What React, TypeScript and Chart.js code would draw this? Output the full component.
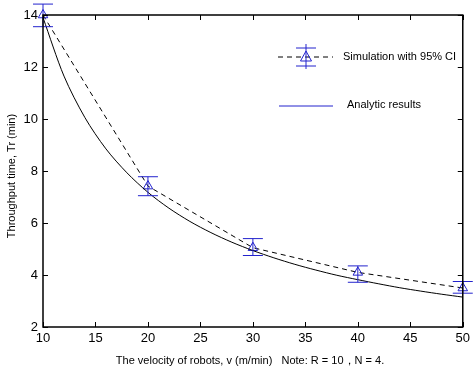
import React, { useEffect, useRef } from 'react';
import { Chart, registerables } from 'chart.js';

Chart.register(...registerables);

// ---- data ----
const simVelocity = [10, 20, 30, 40, 50];
const simMean = [14.0, 7.42, 5.05, 4.1, 3.5];
const simLower = [13.55, 7.05, 4.75, 3.72, 3.3];
const simUpper = [14.42, 7.78, 5.4, 4.35, 3.75];

const analyticVelocity = [10, 12, 14, 16, 18, 20, 22, 24, 26, 28, 30, 32, 34, 36, 38, 40, 42, 44, 46, 48, 50];
const analyticTime = [13.9, 11.65, 10.05, 8.85, 7.93, 7.18, 6.57, 6.06, 5.63, 5.26, 4.94, 4.66, 4.41, 4.19, 3.99, 3.82, 3.66, 3.51, 3.38, 3.26, 3.15];

const xTickValues = [10, 15, 20, 25, 30, 35, 40, 45, 50];
const yTickValues = [2, 4, 6, 8, 10, 12, 14];

const simLabel = 'Simulation with 95% CI';
const analyticLabel = 'Analytic results';
const xTitle = 'The velocity of robots, v (m/min)   Note: R = 10\uFF0CN = 4.';
const yTitle = 'Throughput time, Tr (min)';

const BLUE = 'rgb(35,35,205)';
const FONT = '"Liberation Sans", Arial, sans-serif';

const customPlugin = {
  id: 'matlabStyle',
  afterDatasetsDraw(chart: any) {
    const ctx = chart.ctx;
    const xs = chart.scales.x;
    const ys = chart.scales.y;
    // error bars
    ctx.save();
    ctx.strokeStyle = BLUE;
    ctx.lineWidth = 1;
    for (let i = 0; i < simVelocity.length; i++) {
      const px = xs.getPixelForValue(simVelocity[i]);
      const yl = ys.getPixelForValue(simLower[i]);
      const yu = ys.getPixelForValue(simUpper[i]);
      ctx.beginPath();
      ctx.moveTo(px, yl);
      ctx.lineTo(px, yu);
      ctx.moveTo(px - 10, yl);
      ctx.lineTo(px + 10, yl);
      ctx.moveTo(px - 10, yu);
      ctx.lineTo(px + 10, yu);
      ctx.stroke();
    }
    ctx.restore();
  },
  afterDraw(chart: any) {
    const ctx = chart.ctx;
    const a = chart.chartArea;
    const xs = chart.scales.x;
    const ys = chart.scales.y;
    ctx.save();
    // box
    ctx.strokeStyle = '#000';
    ctx.lineWidth = 1.5;
    ctx.strokeRect(a.left, a.top, a.right - a.left, a.bottom - a.top);
    // inward ticks
    ctx.lineWidth = 1;
    const tl = 5;
    ctx.beginPath();
    for (const v of xTickValues) {
      const px = Math.round(xs.getPixelForValue(v)) + 0.5;
      ctx.moveTo(px, a.bottom);
      ctx.lineTo(px, a.bottom - tl);
      ctx.moveTo(px, a.top);
      ctx.lineTo(px, a.top + tl);
    }
    for (const v of yTickValues) {
      const py = Math.round(ys.getPixelForValue(v)) + 0.5;
      ctx.moveTo(a.left, py);
      ctx.lineTo(a.left + tl, py);
      ctx.moveTo(a.right, py);
      ctx.lineTo(a.right - tl, py);
    }
    ctx.stroke();

    // titles
    ctx.fillStyle = '#000';
    ctx.font = `11px ${FONT}`;
    ctx.textAlign = 'center';
    ctx.textBaseline = 'middle';
    ctx.fillText(xTitle, 250, 361);
    ctx.save();
    ctx.translate(12, 176);
    ctx.rotate(-Math.PI / 2);
    ctx.fillText(yTitle, 0, 0);
    ctx.restore();

    // legend
    const ly1 = 57;
    const ly2 = 106;
    ctx.strokeStyle = '#000';
    ctx.lineWidth = 1;
    ctx.setLineDash([5, 4]);
    ctx.beginPath();
    ctx.moveTo(278, ly1);
    ctx.lineTo(333, ly1);
    ctx.stroke();
    ctx.setLineDash([]);
    // marker + error bar
    ctx.strokeStyle = BLUE;
    const mx = 306;
    ctx.beginPath();
    ctx.moveTo(mx, ly1 - 13);
    ctx.lineTo(mx, ly1 + 12);
    ctx.moveTo(mx - 10, ly1 - 9);
    ctx.lineTo(mx + 10, ly1 - 9);
    ctx.moveTo(mx - 10, ly1 + 9);
    ctx.lineTo(mx + 10, ly1 + 9);
    ctx.stroke();
    ctx.beginPath();
    ctx.moveTo(mx, ly1 - 6);
    ctx.lineTo(mx + 5.5, ly1 + 4);
    ctx.lineTo(mx - 5.5, ly1 + 4);
    ctx.closePath();
    ctx.stroke();
    // analytic legend line (blue)
    ctx.beginPath();
    ctx.moveTo(279, ly2);
    ctx.lineTo(333, ly2);
    ctx.stroke();
    ctx.fillStyle = '#000';
    ctx.textAlign = 'left';
    ctx.font = `11px ${FONT}`;
    ctx.fillText(simLabel, 343, ly1);
    ctx.fillText(analyticLabel, 347, ly2 - 1);
    ctx.restore();
  },
};

export default function App() {
  const ref = useRef<HTMLCanvasElement>(null);
  useEffect(() => {
    document.body.style.margin = '0';
    const canvas = ref.current!;
    const chart = new Chart(canvas, {
      type: 'line',
      data: {
        datasets: [
          {
            label: analyticLabel,
            data: analyticVelocity.map((v, i) => ({ x: v, y: analyticTime[i] })),
            borderColor: '#000',
            borderWidth: 1,
            pointRadius: 0,
            tension: 0.3,
            fill: false,
            clip: false as any,
          },
          {
            label: simLabel,
            data: simVelocity.map((v, i) => ({ x: v, y: simMean[i] })),
            borderColor: '#000',
            borderWidth: 1,
            borderDash: [5, 4],
            pointStyle: 'triangle',
            pointRadius: 5.5,
            pointBorderColor: BLUE,
            pointBackgroundColor: 'rgba(0,0,0,0)',
            pointBorderWidth: 1,
            tension: 0,
            fill: false,
            clip: false as any,
          },
        ],
      },
      options: {
        responsive: false,
        animation: false,
        layout: { padding: { left: 0, top: 15, right: 9, bottom: 0 } },
        plugins: { legend: { display: false }, tooltip: { enabled: false } },
        scales: {
          x: {
            type: 'linear',
            min: 10,
            max: 50,
            grid: { display: false, drawTicks: false },
            border: { display: false },
            afterFit: (axis: any) => { axis.height = 41; },
            afterBuildTicks: (axis: any) => { axis.ticks = xTickValues.map((v) => ({ value: v })); },
            ticks: {
              padding: 4,
              color: '#000',
              font: { family: FONT, size: 13 },
              maxRotation: 0,
              autoSkip: false,
            },
          },
          y: {
            type: 'linear',
            min: 2,
            max: 14,
            grid: { display: false, drawTicks: false },
            border: { display: false },
            afterFit: (axis: any) => { axis.width = 43; },
            afterBuildTicks: (axis: any) => { axis.ticks = yTickValues.map((v) => ({ value: v })); },
            ticks: {
              padding: 5,
              color: '#000',
              font: { family: FONT, size: 13 },
              autoSkip: false,
            },
          },
        },
      },
      plugins: [customPlugin],
    });
    return () => chart.destroy();
  }, []);
  return <canvas ref={ref} width={474} height={368} style={{ display: 'block' }} />;
}
